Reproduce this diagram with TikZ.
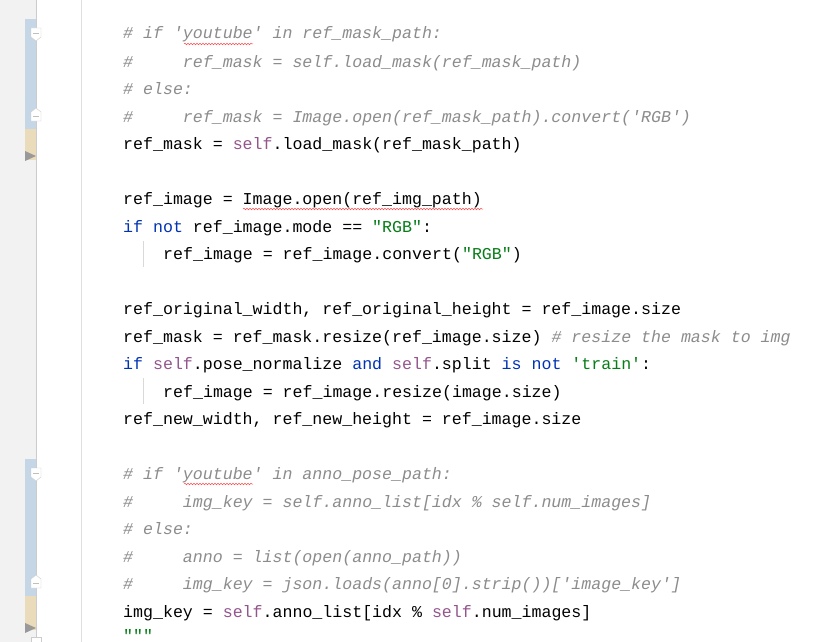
\documentclass[tikz,border=0pt]{standalone}
\usepackage{fontspec}
\newfontfamily\code{Liberation Mono}
\usetikzlibrary{decorations.pathmorphing}
\definecolor{cmt}{HTML}{8C8C8C}
\definecolor{kw}{HTML}{0033B3}
\definecolor{slf}{HTML}{94558D}
\definecolor{str}{HTML}{067D17}
\definecolor{gut}{HTML}{F2F2F2}
\definecolor{fold}{HTML}{C5D6E6}
\definecolor{chg}{HTML}{EADBBA}
\newcommand\Kw[1]{{\color{kw}#1}}
\newcommand\Sf[1]{{\color{slf}#1}}
\newcommand\St[1]{{\color{str}#1}}
\newcommand\Cm[1]{{\color{cmt}\itshape #1}}
\newcommand\Ind{\ \ \ \ \ }
\tikzset{ln/.style={anchor=base west,inner sep=0pt,font=\code\fontsize{16.6}{18}\selectfont},
 wav/.style={draw=red!70,line width=0.5pt,decorate,decoration={snake,amplitude=0.8pt,segment length=3pt}}}
\begin{document}
\begin{tikzpicture}[x=1pt,y=-1pt]
\useasboundingbox (0,0) rectangle (830,642);
\fill[white] (0,0) rectangle (830,642);
\fill[gut] (0,0) rectangle (36,642);
\draw[gray!40] (36.5,0) -- (36.5,642);
\draw[gray!25] (81.5,0) -- (81.5,642);
\fill[fold] (25,19) rectangle (36,129);
\fill[chg] (25,129) rectangle (36,160);
\fill[gray!80] (25,151) -- (36,156) -- (25,161) -- cycle;
\fill[fold] (25,459) rectangle (36,596);
\fill[chg] (25,596) rectangle (36,630);
\fill[gray!80] (25,623) -- (36,628) -- (25,633) -- cycle;
\foreach \y in {33,473}{\filldraw[fill=white,draw=gray!40] (31,\y-5) -- (41,\y-5) -- (41,\y+4) -- (36,\y+8) -- (31,\y+4) -- cycle; \draw[gray!50] (33,\y) -- (39,\y);}
\foreach \y in {116,583}{\filldraw[fill=white,draw=gray!40] (31,\y+5) -- (41,\y+5) -- (41,\y-4) -- (36,\y-8) -- (31,\y-4) -- cycle; \draw[gray!50] (33,\y) -- (39,\y);}
\filldraw[fill=white,draw=gray!40] (31,637) rectangle (41,645);
\draw[gray!30] (143.5,241) -- (143.5,267);
\draw[gray!30] (143.5,378) -- (143.5,404);
\node[ln] (l1) at (123,39) {\Cm{\# if 'youtube' in ref\_mask\_path:}};
\node[ln] (l2) at (123,67) {\Cm{\#\Ind ref\_mask = self.load\_mask(ref\_mask\_path)}};
\node[ln] (l3) at (123,94) {\Cm{\# else:}};
\node[ln] (l4) at (123,122) {\Cm{\#\Ind ref\_mask = Image.open(ref\_mask\_path).convert('RGB')}};
\node[ln] (l5) at (123,149) {ref\_mask = \Sf{self}.load\_mask(ref\_mask\_path)};
\node[ln] (l6) at (123,204) {ref\_image = Image.open(ref\_img\_path)};
\node[ln] (l7) at (123,232) {\Kw{if not} ref\_image.mode == \St{"RGB"}:};
\node[ln] (l8) at (163,259) {ref\_image = ref\_image.convert(\St{"RGB"})};
\node[ln] (l9) at (123,314) {ref\_original\_width, ref\_original\_height = ref\_image.size};
\node[ln] (l10) at (123,342) {ref\_mask = ref\_mask.resize(ref\_image.size) \Cm{\# resize the mask to img}};
\node[ln] (l11) at (123,369) {\Kw{if} \Sf{self}.pose\_normalize \Kw{and} \Sf{self}.split \Kw{is not} \St{'train'}:};
\node[ln] (l12) at (163,397) {ref\_image = ref\_image.resize(image.size)};
\node[ln] (l13) at (123,424) {ref\_new\_width, ref\_new\_height = ref\_image.size};
\node[ln] (l14) at (123,479) {\Cm{\# if 'youtube' in anno\_pose\_path:}};
\node[ln] (l15) at (123,507) {\Cm{\#\Ind img\_key = self.anno\_list[idx \% self.num\_images]}};
\node[ln] (l16) at (123,534) {\Cm{\# else:}};
\node[ln] (l17) at (123,562) {\Cm{\#\Ind anno = list(open(anno\_path))}};
\node[ln] (l18) at (123,589) {\Cm{\#\Ind img\_key = json.loads(anno[0].strip())['image\_key']}};
\node[ln] (l19) at (123,617) {img\_key = \Sf{self}.anno\_list[idx \% \Sf{self}.num\_images]};
\node[ln] (l20) at (123,641) {\St{"""}};
\path[wav] (184,44) -- (253,44);
\path[wav] (184,484) -- (253,484);
\path[wav] (243,209) -- (483,209);
\end{tikzpicture}
\end{document}
